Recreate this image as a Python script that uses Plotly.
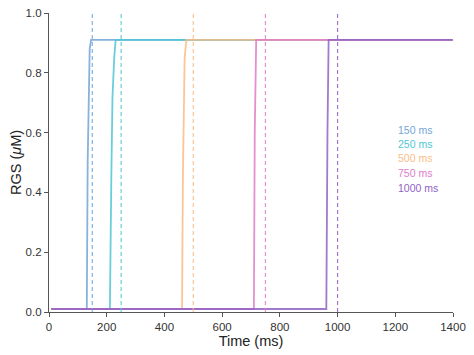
import plotly.graph_objects as go

labels = ["150 ms", "250 ms", "500 ms", "750 ms", "1000 ms"]
durations = [150, 250, 500, 750, 1000]
colors = ["#72a6d8", "#4fc6d6", "#fbbd86", "#e07cc9", "#9163c4"]

x150 = [8, 131, 134, 138, 141, 146, 1399]
y150 = [0.01, 0.01, 0.5, 0.75, 0.88, 0.91, 0.91]
x250 = [8, 211, 216, 220, 226, 231, 1399]
y250 = [0.01, 0.01, 0.45, 0.72, 0.85, 0.91, 0.91]
x500 = [8, 461, 464, 467, 470, 476, 1399]
y500 = [0.01, 0.01, 0.45, 0.7, 0.85, 0.91, 0.91]
x750 = [8, 710, 713, 718, 1399]
y750 = [0.01, 0.01, 0.6, 0.91, 0.91]
x1000 = [8, 961, 965, 969, 1399]
y1000 = [0.01, 0.01, 0.6, 0.91, 0.91]

xs = [x150, x250, x500, x750, x1000]
ys = [y150, y250, y500, y750, y1000]

fig = go.Figure()
for x, y, c, lab in zip(xs, ys, colors, labels):
    fig.add_trace(go.Scatter(x=x, y=y, mode="lines", line=dict(color=c, width=1.8),
                             opacity=0.85, name=lab, showlegend=False, cliponaxis=False))

for d, c in zip(durations, colors):
    fig.add_shape(type="line", x0=d, x1=d, y0=0, y1=1, xref="x", yref="y", opacity=0.85,
                  line=dict(color=c, width=1.2, dash="4px,3px"), layer="above")

legend_y = [0.61, 0.562, 0.514, 0.464, 0.416]
for lab, c, ly in zip(labels, colors, legend_y):
    fig.add_annotation(x=1202, y=ly, text=lab, showarrow=False, xanchor="left",
                       yanchor="middle", font=dict(color=c, size=10.5))

axis_common = dict(showgrid=False, zeroline=False, showline=True, linecolor="#555",
                   linewidth=1.3, ticks="outside", tickcolor="#555", ticklen=4,
                   tickfont=dict(size=11.5, color="#333"), automargin=False)

fig.update_xaxes(range=[0, 1400], tickvals=[0, 200, 400, 600, 800, 1000, 1200, 1400],
                 title=dict(text="Time (ms)", font=dict(size=14.5, color="#222"), standoff=0),
                 **axis_common)
fig.update_yaxes(range=[0, 1.0], tickvals=[0, 0.2, 0.4, 0.6, 0.8, 1.0], tickformat=".1f",
                 title=dict(text="RGS (<i>μ</i>M)", font=dict(size=14.5, color="#222"), standoff=0),
                 **axis_common)

fig.update_layout(width=474, height=355, margin=dict(l=49, r=21, t=13, b=43),
                  plot_bgcolor="white", paper_bgcolor="white",
                  font=dict(family="Liberation Sans, Arial, sans-serif"))

fig.write_html("out.html", config={"displayModeBar": False},
               post_script="document.body.style.margin='0';")
